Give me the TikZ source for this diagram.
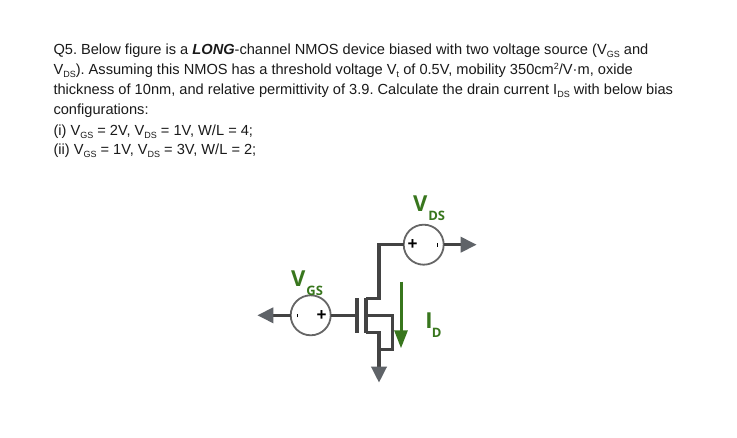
\documentclass[tikz,border=0pt]{standalone}
\usepackage{fontspec}
\setmainfont{Liberation Sans}
\newfontfamily\lblfont{Open Sans}
\usetikzlibrary{arrows.meta}
\definecolor{wiregray}{HTML}{434343}
\definecolor{headgray}{HTML}{5F6368}
\definecolor{ringgray}{HTML}{666666}
\definecolor{labgreen}{HTML}{38761D}
\definecolor{txt}{HTML}{1A1A1A}
\newcommand\lowtxt[1]{\raisebox{-2.6pt}{\fontsize{9}{9}\selectfont #1}}
\newcommand\uptxt[1]{\raisebox{5pt}{\fontsize{9}{9}\selectfont #1}}
\tikzset{
  qline/.style={anchor=base west,inner sep=0pt,outer sep=0pt,text=txt,font=\frenchspacing\fontsize{14.62}{16}\selectfont},
  wire/.style={draw=wiregray,line width=3.5pt,line cap=butt,line join=miter},
  lead/.style={draw=wiregray,line width=3.5pt,-{Triangle[length=16pt,width=15pt,color=headgray,fill=headgray]}},
  source/.style={circle,draw=ringgray,line width=1.8pt,fill=white,minimum size=40pt,inner sep=0pt,outer sep=0pt},
  sign/.style={inner sep=0pt,outer sep=0pt,text=black,font=\fontsize{17}{17}\selectfont\bfseries},
  bigV/.style={inner sep=0pt,outer sep=0pt,text=labgreen,font=\lblfont\fontsize{22}{22}\selectfont\bfseries},
  smallL/.style={inner sep=0pt,outer sep=0pt,text=labgreen,font=\lblfont\fontsize{13}{13}\selectfont\bfseries},
  current/.style={draw=labgreen,line width=3pt,-{Triangle[length=18pt,width=13pt,color=labgreen,fill=labgreen]}},
}
\begin{document}
\begin{tikzpicture}[x=1pt,y=-1pt]
\useasboundingbox (0,0) rectangle (737,438);
\fill[white] (0,0) rectangle (737,438);
% text
\node[qline] (l1) at (53.5,55) {Q5. Below figure is a \textbf{\textit{LONG}}-channel NMOS device biased with two voltage source (V\lowtxt{GS} and};
\node[qline] (l2) at (53.5,75) {V\lowtxt{DS}). Assuming this NMOS has a threshold voltage V\lowtxt{t} of 0.5V, mobility 350cm\uptxt{2}/V·m, oxide};
\node[qline] (l3) at (53.5,95) {thickness of 10nm, and relative permittivity of 3.9. Calculate the drain current I\lowtxt{DS} with below bias};
\node[qline] (l4) at (53.5,115) {configurations:};
\node[qline] (l5) at (53.5,135.5) {(i) V\lowtxt{GS} = 2V, V\lowtxt{DS} = 1V, W/L = 4;};
\node[qline] (l6) at (53.5,155) {(ii) V\lowtxt{GS} = 1V, V\lowtxt{DS} = 3V, W/L = 2;};
% sources
\node[source] (vds) at (423.7,244.7) {};
\node[source] (vgs) at (310.7,315.3) {};
% coordinates
\coordinate (dcorner) at (379,244.7);
\coordinate (dfoot) at (379,298.3);
\coordinate (chtop) at (366,298.3);
\coordinate (chmid) at (366,315.3);
\coordinate (chbot) at (366,332.7);
\coordinate (gmid) at (357,315.3);
\coordinate (gtop) at (357,298.3);
\coordinate (gbot) at (357,332.7);
\coordinate (bcorner) at (392.3,315.3);
\coordinate (bfoot) at (392.3,349.3);
\coordinate (sjoin) at (379,349.3);
\coordinate (sfoot) at (379,332.7);
\coordinate (stail) at (379,382.7);
\coordinate (rtail) at (476.7,244.7);
\coordinate (ltail) at (257.3,315.3);
\coordinate (itop) at (401,281.7);
\coordinate (ibot) at (401,348.3);
% MOSFET
\draw[wire] (vds.west) -- (dcorner) -- (dfoot) -- (chtop);
\draw[wire] (chtop) -- (chbot);
\draw[wire] (gtop) -- (gbot);
\draw[wire] (vgs.east) -- (gmid);
\draw[wire] (chmid) -- (bcorner) -- (bfoot) -- (sjoin);
\draw[wire] (chbot) -- (sfoot) -- (sjoin);
% leads
\draw[lead] (sfoot) -- (stail);
\draw[lead] (vds.east) -- (rtail);
\draw[lead] (vgs.west) -- (ltail);
\draw[current] (itop) -- (ibot);
% signs
\node[sign] (pds) at (412.7,245) {+};
\node[sign] (mds) at (437,245) {\rule{1pt}{3.5pt}};
\node[sign] (pgs) at (321.7,315.3) {+};
\node[sign] (mgs) at (297.3,315.6) {\rule{1pt}{3.5pt}};
% labels
\node[bigV] (vdsV) at (420.3,204) {V};
\node[smallL] (vdsS) at (436.7,216) {DS};
\node[bigV] (vgsV) at (298.3,279) {V};
\node[smallL] (vgsS) at (314.7,291.3) {GS};
\node[bigV] (idI) at (429,321) {I};
\node[smallL] (idD) at (436.7,333.3) {D};
\end{tikzpicture}
\end{document}
